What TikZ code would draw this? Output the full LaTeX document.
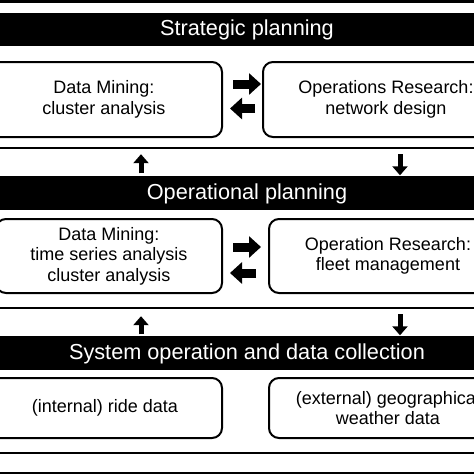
\documentclass[tikz,border=0pt]{standalone}
\usepackage{fontspec}
\setmainfont{Liberation Sans}
\usetikzlibrary{arrows.meta}
\begin{document}
\begin{tikzpicture}[x=1pt,y=-1pt,
  box/.style={draw, line width=2pt, rounded corners=10pt, align=center, inner sep=0pt,
    font=\fontsize{18}{20.5}\selectfont},
  bar/.style={fill=black, text=white, minimum width=530pt, minimum height=32pt, inner sep=0pt,
    font=\fontsize{21.7}{26}\selectfont},
  frame/.style={draw, line width=2.4pt, inner sep=0pt},
  harrow/.style={line width=9pt, -{Triangle[width=21pt,length=12pt]}},
  varrow/.style={line width=5pt, -{Triangle[width=15pt,length=9pt]}},
  edgeline/.style={line width=2.5pt},
]
\useasboundingbox (0,0) rectangle (474,474);
\fill[white] (0,0) rectangle (474,474);
\clip (0,0) rectangle (474,474);

% fragments of neighbouring frames
\coordinate (topL) at (-20,1.3);
\coordinate (topR) at (494,1.3);
\coordinate (botL) at (-20,473);
\coordinate (botR) at (494,473);
\draw[edgeline] (topL) -- (topR);
\draw[edgeline] (botL) -- (botR);

% layer frames
\node[frame, minimum width=540pt, minimum height=134pt] (F1) at (237,81) {};
\node[frame, minimum width=540pt, minimum height=131pt] (F2) at (237,242.5) {};
\node[frame, minimum width=540pt, minimum height=116pt] (F3) at (237,395) {};

% header bars
\node[bar] (B1) at (247,30) {Strategic planning};
\node[bar] (B2) at (247,193.5) {Operational planning};
\node[bar] (B3) at (247,353.5) {System operation and data collection};

% layer 1 boxes
\node[box, minimum width=236pt, minimum height=75pt] (L1) at (104,99.5) {Data Mining:\\cluster analysis};
\node[box, minimum width=246pt, minimum height=75pt] (R1) at (386,99.5) {Operations Research:\\network design};

% layer 2 boxes
\node[box, minimum width=226pt, minimum height=74pt] (L2) at (109,256) {Data Mining:\\time series analysis\\cluster analysis};
\node[box, minimum width=238pt, minimum height=74pt] (R2) at (388,256) {Operation Research:\\fleet management};

% layer 3 boxes
\node[box, minimum width=234pt, minimum height=60pt] (L3) at (105,408) {(internal) ride data};
\node[box, minimum width=238pt, minimum height=60pt] (R3) at (388,408) {(external) geographical\\weather data};

% horizontal arrows
\draw[harrow, shorten <=10pt, shorten >=1pt] (L1.east |- 0,84) -- (R1.west |- 0,84);
\draw[harrow, shorten <=7pt, shorten >=7pt] (R1.west |- 0,108.5) -- (L1.east |- 0,108.5);
\draw[harrow, shorten <=10pt, shorten >=7pt] (L2.east |- 0,247) -- (R2.west |- 0,247);
\draw[harrow, shorten <=12pt, shorten >=7pt] (R2.west |- 0,273) -- (L2.east |- 0,273);

% vertical arrows
\draw[varrow, shorten <=4pt, shorten >=5pt] (B2.north -| 141,0) -- (F1.south -| 141,0);
\draw[varrow, shorten <=5pt, shorten >=2pt] (F1.south -| 400,0) -- (B2.north -| 400,0);
\draw[varrow, shorten <=3pt, shorten >=7pt] (B3.north -| 141,0) -- (F2.south -| 141,0);
\draw[varrow, shorten <=5pt, shorten >=2pt] (F2.south -| 400,0) -- (B3.north -| 400,0);
\end{tikzpicture}
\end{document}
